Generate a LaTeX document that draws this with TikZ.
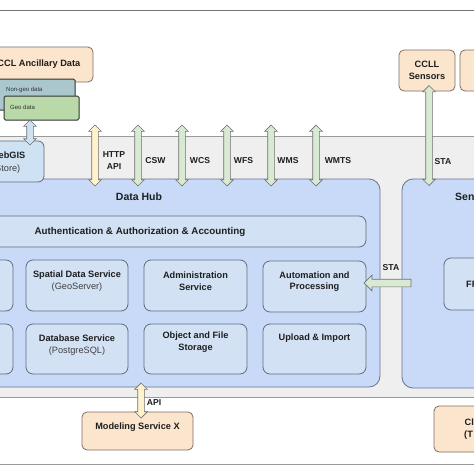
\documentclass[tikz,border=0pt]{standalone}
\usepackage{fontspec}
\setmainfont{Liberation Sans}
\usetikzlibrary{shapes.arrows,fit,calc}
\definecolor{orangef}{HTML}{FCE5CD}
\definecolor{orangee}{HTML}{7D6E62}
\definecolor{hubf}{HTML}{C9DAF8}
\definecolor{hube}{HTML}{66758C}
\definecolor{svcf}{HTML}{D2E2F4}
\definecolor{svce}{HTML}{5E6D80}
\definecolor{bandf}{HTML}{EFEFEF}
\definecolor{bande}{HTML}{9A9A9A}
\definecolor{nongeof}{HTML}{A9C7CC}
\definecolor{geof}{HTML}{B9D9A9}
\definecolor{greenf}{HTML}{D9EAD3}
\definecolor{yellowf}{HTML}{FFF2CC}
\definecolor{bluef}{HTML}{CFE2F3}
\definecolor{arre}{HTML}{707070}
\definecolor{txt}{HTML}{1E1E1E}
\begin{document}
\begin{tikzpicture}[x=1pt,y=-1pt,
  orangebox/.style={draw=orangee, fill=orangef, rounded corners=5pt, line width=0.8pt, inner sep=0pt},
  hubbox/.style={draw=hube, fill=hubf, rounded corners=11pt, line width=0.8pt, inner sep=0pt},
  svcbox/.style={draw=svce, fill=svcf, rounded corners=7pt, line width=0.8pt, inner sep=0pt},
  databox/.style={draw=black!80, line width=1pt, rounded corners=1.5pt, inner sep=0pt},
  lbl/.style={font=\bfseries\fontsize{9.2}{11.5}\selectfont, text=txt, align=center, inner sep=0pt},
  sublbl/.style={font=\fontsize{9.2}{11.5}\selectfont, text=black!75, align=center, inner sep=0pt},
  small/.style={font=\fontsize{6}{7}\selectfont, text=black!80, inner sep=0pt},
  darrow/.style={double arrow, draw=arre, line width=0.7pt, inner sep=3pt, double arrow head extend=3pt, rotate=90},
  sarrow/.style={single arrow, draw=arre, line width=0.7pt, inner sep=3.5pt, single arrow head extend=4pt}
]
\useasboundingbox (0,0) rectangle (474,474);
\clip (0,0) rectangle (474,474);
\fill[white] (0,0) rectangle (474,474);

% frame lines
\draw[black!55, line width=0.9pt] (-5,10) -- (480,10);
\draw[black!40, line width=0.9pt] (-5,464) -- (480,464);

% gray band
\node[draw=bande, fill=bandf, line width=0.8pt, inner sep=0pt, fit={(-5,136) (480,397)}] (band) {};

% hubs
\node[hubbox, fit={(-40,179) (380,387)}] (hub) {};
\node[hubbox, fit={(402,179) (530,388)}] (sensorhub) {};
\node[lbl, font=\bfseries\fontsize{10.5}{12}\selectfont] (hubt) at (139,197) {Data Hub};
\node[lbl, font=\bfseries\fontsize{10.5}{12}\selectfont, anchor=west] (sensort) at (455,197) {Sensor Hub};

% auth bar
\node[svcbox, fit={(-30,216) (366,247)}] (auth) {};
\node[lbl, font=\bfseries\fontsize{9.8}{12}\selectfont] (autht) at (140,232) {Authentication \& Authorization \& Accounting};

% service boxes row 1
\node[svcbox, fit={(-60,260) (13,311)}] (l1) {};
\node[svcbox, fit={(26,260) (128,311)}] (sds) {};
\node[svcbox, fit={(144,260) (247,311)}] (adm) {};
\node[svcbox, fit={(263,261) (366,312)}] (auto) {};
% row 2
\node[svcbox, fit={(-60,324) (13,374)}] (l2) {};
\node[svcbox, fit={(26,324) (128,374)}] (dbs) {};
\node[svcbox, fit={(144,324) (247,374)}] (obj) {};
\node[svcbox, fit={(263,324) (366,374)}] (upl) {};
% sensor inner box
\node[svcbox, fit={(444,258) (540,310)}] (frost) {};

\node[lbl] (sdst) at (77,275) {Spatial Data Service};
\node[sublbl] (sdss) at (77,287.5) {(GeoServer)};
\node[lbl] (admt) at (195.5,281) {Administration\\Service};
\node[lbl] (autot) at (314.5,281.5) {Automation and\\Processing};
\node[lbl] (dbst) at (77,338) {Database Service};
\node[sublbl] (dbss) at (77,351) {(PostgreSQL)};
\node[lbl] (objt) at (195.5,342) {Object and File\\Storage};
\node[lbl] (uplt) at (314.5,338) {Upload \& Import};
\node[lbl, anchor=west] (frostt) at (466,284) {FROST};

% top-left data boxes
\node[orangebox, fit={(-40,47) (93,82)}] (anc) {};
\node[lbl, anchor=east] (anct) at (80.5,64) {CCL Ancillary Data};
\node[databox, fill=nongeof, fit={(-40,79) (75,110)}] (nongeo) {};
\node[small, anchor=west] (nongeot) at (6,90) {Non-geo data};
\node[databox, fill=geof, fit={(4,96) (79,120)}] (geo) {};
\node[small, anchor=west] (geot) at (10,107) {Geo data};

% WebGIS
\node[svcbox, fill=bluef, rounded corners=6pt, fit={(-40,141) (44,182)}] (webgis) {};
\node[lbl, anchor=east] (webgist) at (25.5,155) {WebGIS};
\node[sublbl, anchor=east] (webgiss) at (20.5,169) {(MapStore)};

% right top boxes
\node[orangebox, fit={(399,50) (455,91)}] (sensors) {};
\node[lbl] (sensorst) at (427,70.5) {CCLL\\Sensors};
\node[orangebox, fit={(460,50) (540,91)}] (rtop) {};

% bottom boxes
\node[orangebox, fit={(82,412) (193,450)}] (model) {};
\node[lbl] (modelt) at (137.5,427) {Modeling Service X};
\node[orangebox, fit={(434,406) (540,452)}] (rbot) {};
\node[lbl, anchor=west] (rbott) at (464.5,422) {Cl};
\node[lbl, anchor=west] (rbots) at (464,435.5) {(T};

% arrows
\node[darrow, fill=bluef, minimum height=25pt] (a1) at ($(geo.south)+(-11.5,12)$) {};
\node[darrow, fill=yellowf, minimum height=61pt] (ahttp) at (95,155.5) {};
\node[darrow, fill=greenf, minimum height=61pt] (acsw) at (138,155.5) {};
\node[darrow, fill=greenf, minimum height=61pt] (awcs) at (182,155.5) {};
\node[darrow, fill=greenf, minimum height=61pt] (awfs) at (227,155.5) {};
\node[darrow, fill=greenf, minimum height=61pt] (awms) at (271,155.5) {};
\node[darrow, fill=greenf, minimum height=61pt] (awmts) at (316,155.5) {};
\node[darrow, fill=greenf, minimum height=100pt] (asta) at (429,135.5) {};
\node[darrow, fill=yellowf, minimum height=35pt] (aapi) at (141,400.5) {};
\node[sarrow, fill=greenf, minimum height=47pt, rotate=180] (asta2) at (389.5,283) {};

% arrow labels
\node[lbl, font=\bfseries\fontsize{8.6}{12.5}\selectfont] (httpt) at (114,160.5) {HTTP\\API};
\node[lbl, font=\bfseries\fontsize{8.6}{12}\selectfont] (cswt) at (155.5,161) {CSW};
\node[lbl, font=\bfseries\fontsize{8.6}{12}\selectfont] (wcst) at (200,161) {WCS};
\node[lbl, font=\bfseries\fontsize{8.6}{12}\selectfont] (wfst) at (243.5,161) {WFS};
\node[lbl, font=\bfseries\fontsize{8.6}{12}\selectfont] (wmst) at (288,161) {WMS};
\node[lbl, font=\bfseries\fontsize{8.6}{12}\selectfont] (wmtst) at (338,161) {WMTS};
\node[lbl, font=\bfseries\fontsize{8.6}{12}\selectfont] (stat) at (443,162) {STA};
\node[lbl, font=\bfseries\fontsize{8.6}{12}\selectfont] (sta2t) at (391,268) {STA};
\node[lbl, font=\bfseries\fontsize{8.6}{12}\selectfont] (apit) at (154,403) {API};
\end{tikzpicture}
\end{document}
